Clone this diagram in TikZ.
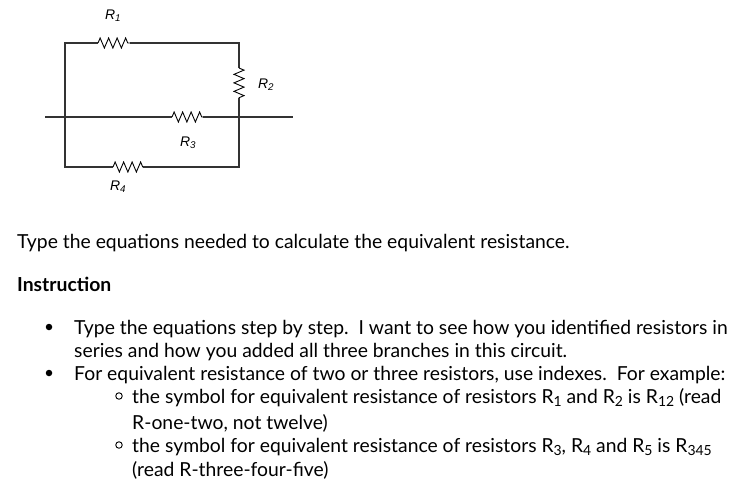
\documentclass[tikz,border=0pt]{standalone}
\usepackage{fontspec}
\setmainfont{Lato}
\newfontfamily\arialf{Liberation Sans}
\usetikzlibrary{decorations.pathmorphing}
\newcommand{\sbs}[1]{\raisebox{-0.4ex}{\fontsize{14}{14}\selectfont #1}}
\begin{document}
\begin{tikzpicture}[x=1bp,y=-1bp,
  wire/.style={line width=1.6pt,black!80},
  res/.style={line width=0.9pt,decorate,decoration={zigzag,segment length=8.5bp,amplitude=5bp}},
  lab/.style={font=\fontsize{14}{14}\selectfont\arialf\itshape},
  txt/.style={anchor=base west,inner sep=0,font=\fontsize{19.4}{19.4}\selectfont},
  bul/.style={circle,fill,inner sep=0,minimum size=6.5bp},
  obul/.style={circle,draw,line width=0.9pt,inner sep=0,minimum size=6.5bp}]
\useasboundingbox (0,0) rectangle (739,503);
\coordinate (TL) at (65,43); \coordinate (TR) at (239,43);
\coordinate (ML) at (65,117); \coordinate (MR) at (239,117);
\coordinate (BL) at (65,167); \coordinate (BR) at (239,167);
\coordinate (in) at (45,117); \coordinate (out) at (293,117);
\coordinate (r1a) at (98,43); \coordinate (r1b) at (130,43);
\coordinate (r2a) at (239,68); \coordinate (r2b) at (239,98);
\coordinate (r3a) at (172,117); \coordinate (r3b) at (203,117);
\coordinate (r4a) at (113,167); \coordinate (r4b) at (143,167);
\draw[wire] (in) -- (r3a) (r3b) -- (out);
\draw[wire] (ML) -- (TL) -- (r1a) (r1b) -- (TR) -- (r2a) (r2b) -- (BR) -- (r4b) (r4a) -- (BL) -- (ML);
\draw[res] (r1a) -- (r1b);
\draw[res] (r2a) -- (r2b);
\draw[res] (r3a) -- (r3b);
\draw[res] (r4a) -- (r4b);
\node[lab] (l1) at (113,16) {R\textsubscript{1}};
\node[lab] (l2) at (266,85) {R\textsubscript{2}};
\node[lab] (l3) at (188,143) {R\textsubscript{3}};
\node[lab] (l4) at (118,187) {R\textsubscript{4}};
\node[txt] (t1) at (17,249) {Type the equations needed to calculate the equivalent resistance.};
\node[txt,font=\fontsize{19.4}{19.4}\selectfont\bfseries] (t2) at (17,292) {Instruction};
\node[bul] (b1) at (49,327) {};
\node[txt] (t3) at (74,334) {Type the equations step by step.\ \ I want to see how you identified resistors in};
\node[txt] (t4) at (74,357) {series and how you added all three branches in this circuit.};
\node[bul] (b2) at (49,373) {};
\node[txt] (t5) at (74,380) {For equivalent resistance of two or three resistors, use indexes.\ \ For example:};
\node[obul] (b3) at (119,396) {};
\node[txt] (t6) at (132,403) {the symbol for equivalent resistance of resistors R\sbs{1} and R\sbs{2} is R\sbs{12} (read};
\node[txt] (t7) at (132,429) {R-one-two, not twelve)};
\node[obul] (b4) at (119,445) {};
\node[txt] (t8) at (132,452) {the symbol for equivalent resistance of resistors R\sbs{3}, R\sbs{4} and R\sbs{5} is R\sbs{345}};
\node[txt] (t9) at (132,476) {(read R-three-four-five)};
\end{tikzpicture}
\end{document}
